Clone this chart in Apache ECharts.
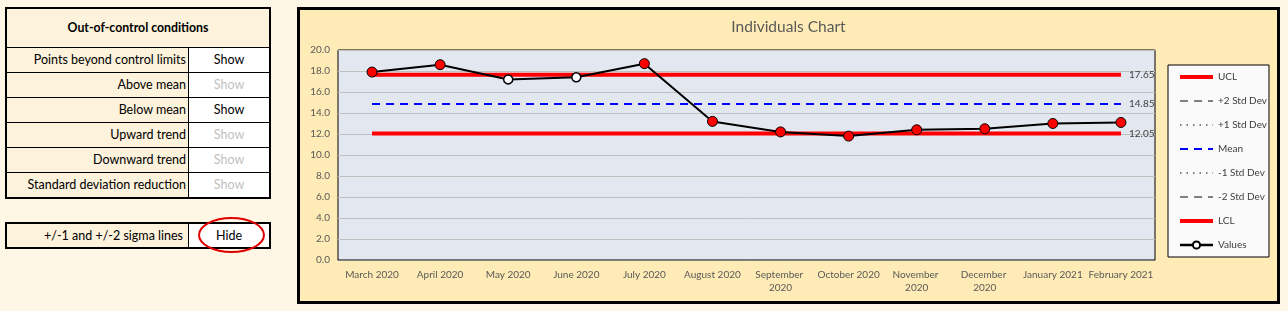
<!DOCTYPE html>
<html>
<head>
<meta charset="utf-8">
<script src="https://cdn.jsdelivr.net/npm/echarts@6/dist/echarts.min.js"></script>
<style>
  html, body { margin:0; padding:0; background:#FFF7E6; width:1288px; height:311px; overflow:hidden; font-family: Lato, "Liberation Sans", sans-serif; }
  .box { position:absolute; border:2px solid #000; box-sizing:content-box; }
  .cell { position:absolute; box-sizing:border-box; font-size:12.5px; line-height:24px; white-space:nowrap; }
  .c1 { left:0; width:182px; background:#FDF2DC; text-align:right; padding-right:2px; border-right:1px solid #000; color:#000; }
  .c2 { left:182px; width:80px; background:#FFFFFF; text-align:center; color:#000; }
  .grey { color:#BFBFBF; }
  .line { border-bottom:1px solid #000; }
  #chartWrap { position:absolute; left:297px; top:7px; width:983px; height:297px; border:3px solid #000; box-sizing:border-box; background:#FFEBB5; }
  #chart { position:absolute; left:0; top:0; width:977px; height:291px; }
  #ellipse { position:absolute; left:198px; top:217px; width:67px; height:36px; border:2px solid #E00000; border-radius:50%; box-sizing:border-box; }
</style>
</head>
<body>
<div class="box" id="t1" style="left:5px; top:7px; width:262px; height:188px;">
  <div class="cell line" style="left:0; top:0; width:262px; height:39px; line-height:38px; text-align:center; font-weight:bold; font-size:12.3px; background:#FDF2DC;">Out-of-control conditions</div>
</div>
<div class="box" id="t2" style="left:5px; top:222px; width:262px; height:23px;"></div>
<div id="ellipse"></div>
<div id="chartWrap"><div id="chart"></div></div>
<script>
// ---- data ----
const conditionNames = ['Points beyond control limits', 'Above mean', 'Below mean', 'Upward trend', 'Downward trend', 'Standard deviation reduction'];
const conditionActive = [true, false, true, false, false, false];
const sigmaRowName = '+/-1 and +/-2 sigma lines';
const sigmaRowValue = 'Hide';

const months = ['March 2020', 'April 2020', 'May 2020', 'June 2020', 'July 2020', 'August 2020', 'September 2020', 'October 2020', 'November 2020', 'December 2020', 'January 2021', 'February 2021'];
const values = [17.9, 18.6, 17.2, 17.4, 18.7, 13.2, 12.2, 11.8, 12.4, 12.5, 13.0, 13.1];
const flagged = [true, true, false, false, true, true, true, true, true, true, true, true];
const uclValues = [17.65, 17.65, 17.65, 17.65, 17.65, 17.65, 17.65, 17.65, 17.65, 17.65, 17.65, 17.65];
const meanValues = [14.85, 14.85, 14.85, 14.85, 14.85, 14.85, 14.85, 14.85, 14.85, 14.85, 14.85, 14.85];
const lclValues = [12.05, 12.05, 12.05, 12.05, 12.05, 12.05, 12.05, 12.05, 12.05, 12.05, 12.05, 12.05];
const plus2Values = [];   // hidden
const plus1Values = [];   // hidden
const minus1Values = [];  // hidden
const minus2Values = [];  // hidden
const legendNames = ['UCL', '+2 Std Dev', '+1 Std Dev', 'Mean', '-1 Std Dev', '-2 Std Dev', 'LCL', 'Values'];
const yTicks = [0, 20, 2]; // min, max, interval

// ---- left tables ----
const t1 = document.getElementById('t1');
conditionNames.forEach((name, i) => {
  const top = 39 + 25 * i;
  const last = i === conditionNames.length - 1;
  const a = document.createElement('div');
  a.className = 'cell c1' + (last ? '' : ' line');
  a.style.top = top + 'px'; a.style.height = (last ? 24 : 25) + 'px';
  a.textContent = name;
  const b = document.createElement('div');
  b.className = 'cell c2' + (last ? '' : ' line') + (conditionActive[i] ? '' : ' grey');
  b.style.top = top + 'px'; b.style.height = (last ? 24 : 25) + 'px';
  b.textContent = 'Show';
  t1.appendChild(a); t1.appendChild(b);
});
const t2 = document.getElementById('t2');
const s1 = document.createElement('div');
s1.className = 'cell c1'; s1.style.top = '0px'; s1.style.height = '23px'; s1.style.lineHeight = '23px'; s1.style.paddingRight = '5px';
s1.textContent = sigmaRowName;
const s2 = document.createElement('div');
s2.className = 'cell c2'; s2.style.top = '0px'; s2.style.height = '23px'; s2.style.lineHeight = '23px';
s2.textContent = sigmaRowValue;
t2.appendChild(s1); t2.appendChild(s2);

// ---- chart ----
const FONT = 'Lato, "Liberation Sans", sans-serif';
const chart = echarts.init(document.getElementById('chart'), null, { renderer: 'canvas' });
const endLbl = {
  show: true, distance: 8, color: '#404040', fontSize: 10, fontFamily: FONT,
  formatter: p => Number(p.value).toFixed(2)
};
const flatLine = (name, data, color, width, type, withLabel) => ({
  name, type: 'line', data, symbol: 'none', silent: true, z: 2,
  lineStyle: { color, width, type },
  itemStyle: { color },
  endLabel: withLabel ? endLbl : { show: false }
});
const legendItem = n => {
  if (n === 'Values') return { name: n, lineStyle: { width: 2.5 } };
  if (n === 'UCL' || n === 'LCL') return { name: n, itemStyle: { opacity: 0 }, lineStyle: { width: 4 } };
  return { name: n, itemStyle: { opacity: 0 } };
};
const option = {
  animation: false,
  title: {
    text: 'Individuals Chart', left: 'center', top: 9, padding: 0,
    textStyle: { color: '#595959', fontSize: 15.5, fontWeight: 'normal', fontFamily: FONT }
  },
  legend: {
    orient: 'vertical', left: 868, top: 55,
    itemWidth: 33, itemHeight: 9, itemGap: 14, itemTextGap: 4,
    padding: [7, 2, 7, 10],
    backgroundColor: '#FAFAFA', borderColor: '#000', borderWidth: 1,
    selectedMode: false,
    textStyle: { color: '#404040', fontSize: 10, fontFamily: FONT },
    data: legendNames.map(legendItem)
  },
  grid: {
    left: 38, top: 40, width: 817, height: 210, containLabel: false,
    show: true, backgroundColor: '#E3E7F0', borderColor: '#000', borderWidth: 1
  },
  xAxis: {
    type: 'category', data: months, boundaryGap: true,
    axisTick: { show: false },
    axisLine: { lineStyle: { color: '#7F7F7F', width: 1 } },
    axisLabel: { interval: 0, color: '#595959', fontSize: 10, fontFamily: FONT, margin: 8, width: 66, overflow: 'break', lineHeight: 13 }
  },
  yAxis: {
    type: 'value', min: yTicks[0], max: yTicks[1], interval: yTicks[2],
    axisLine: { show: false }, axisTick: { show: false },
    axisLabel: { color: '#595959', fontSize: 10, fontFamily: FONT, margin: 8, formatter: v => v.toFixed(1) },
    splitLine: { lineStyle: { color: '#BFBFBF', width: 1 } }
  },
  series: [
    flatLine('UCL', uclValues, '#FF0000', 4, 'solid', true),
    flatLine('+2 Std Dev', plus2Values, '#808080', 2, [8, 6], false),
    flatLine('+1 Std Dev', plus1Values, '#808080', 1.5, [1.5, 5], false),
    flatLine('Mean', meanValues, '#0000FF', 2, [8, 6], true),
    flatLine('-1 Std Dev', minus1Values, '#808080', 1.5, [1.5, 5], false),
    flatLine('-2 Std Dev', minus2Values, '#808080', 2, [8, 6], false),
    flatLine('LCL', lclValues, '#FF0000', 4, 'solid', true),
    {
      name: 'Values', type: 'line', z: 5, silent: true,
      symbol: 'circle', symbolSize: 9,
      lineStyle: { color: '#000', width: 2 },
      itemStyle: { color: '#FFFFFF', borderColor: '#000', borderWidth: 1.5 },
      data: values.map((v, i) => flagged[i]
        ? { value: v, symbolSize: 10, itemStyle: { color: '#FF0000', borderColor: '#000', borderWidth: 1 } }
        : { value: v })
    }
  ]
};
chart.setOption(option);
</script>
</body>
</html>
